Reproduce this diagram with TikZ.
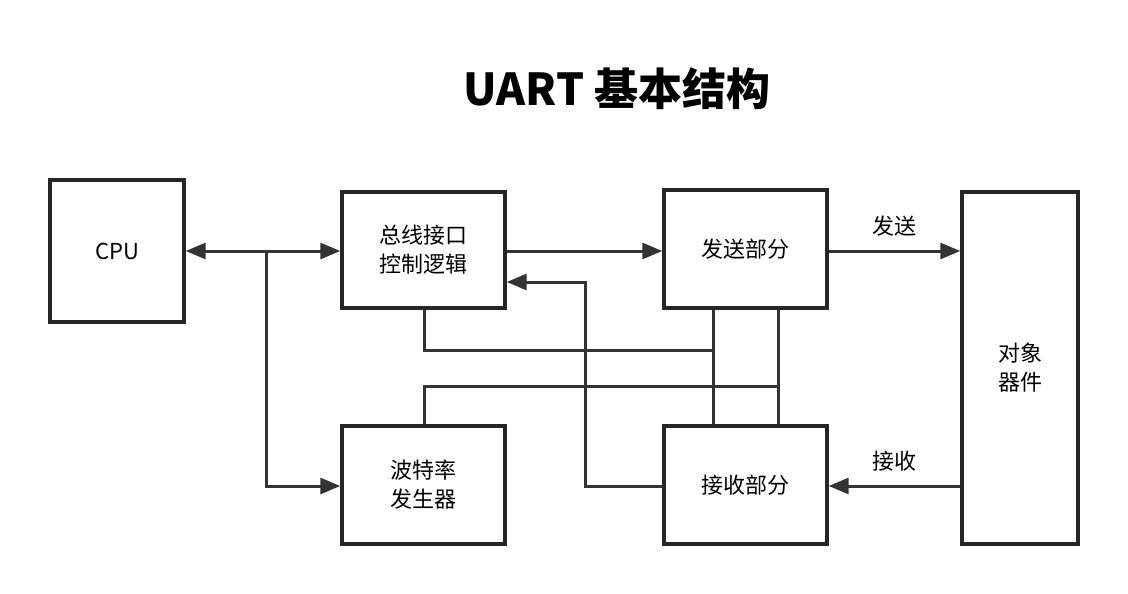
\documentclass[tikz,border=0pt]{standalone}
\usepackage{fontspec}
\setmainfont{Noto Sans CJK SC}
\usetikzlibrary{arrows.meta}
\begin{document}
\begin{tikzpicture}[x=1pt,y=-1pt,
  box/.style={draw=black!85,line width=3.4pt,inner sep=0pt,font=\fontsize{22}{29}\selectfont,align=center},
  ln/.style={draw=black!80,line width=3pt},
  ar/.style={ln,-{Triangle[length=20pt,width=16pt]}},
  lab/.style={font=\fontsize{22}{29}\selectfont}]
\useasboundingbox (0,0) rectangle (1128,594);
\node[font=\fontsize{44}{52}\selectfont\bfseries] (title) at (617,89) {UART 基本结构};
\node[box,minimum width=134pt,minimum height=142pt] (cpu) at (117,251) {CPU};
\node[box,minimum width=163pt,minimum height=116pt] (bus) at (423.5,250) {总线接口\\控制逻辑};
\node[box,minimum width=163pt,minimum height=118pt] (tx) at (745.5,249) {发送部分};
\node[box,minimum width=116pt,minimum height=352pt] (dev) at (1020,368) {对象\\器件};
\node[box,minimum width=163pt,minimum height=118pt] (baud) at (423.5,485) {波特率\\发生器};
\node[box,minimum width=163pt,minimum height=118pt] (rx) at (745.5,485) {接收部分};
\coordinate (j) at (266,251);
\draw[ln,{Triangle[length=20pt,width=16pt]}-{Triangle[length=20pt,width=16pt]}] (cpu.east|-j) -- (bus.west|-j);
\draw[ar] (j) |- (baud.west|-0,486);
\draw[ar] (bus.east|-0,251) -- (tx.west|-0,251);
\draw[ar] (tx.east|-0,251) -- node[lab,above=10pt]{发送} (dev.west|-0,251);
\draw[ar] (dev.west|-0,486) -- node[lab,above=10pt]{接收} (rx.east|-0,486);
\draw[ar] (rx.west|-0,486) -- (585,486) -- (585,282) -- (bus.east|-0,282);
\draw[ln] (bus.south-|424,0) -- (424,350) -- (713,350);
\draw[ln] (tx.south-|713,0) -- (rx.north-|713,0);
\draw[ln] (tx.south-|778,0) -- (rx.north-|778,0);
\draw[ln] (baud.north-|424,0) -- (424,386) -- (778,386);
\end{tikzpicture}
\end{document}
